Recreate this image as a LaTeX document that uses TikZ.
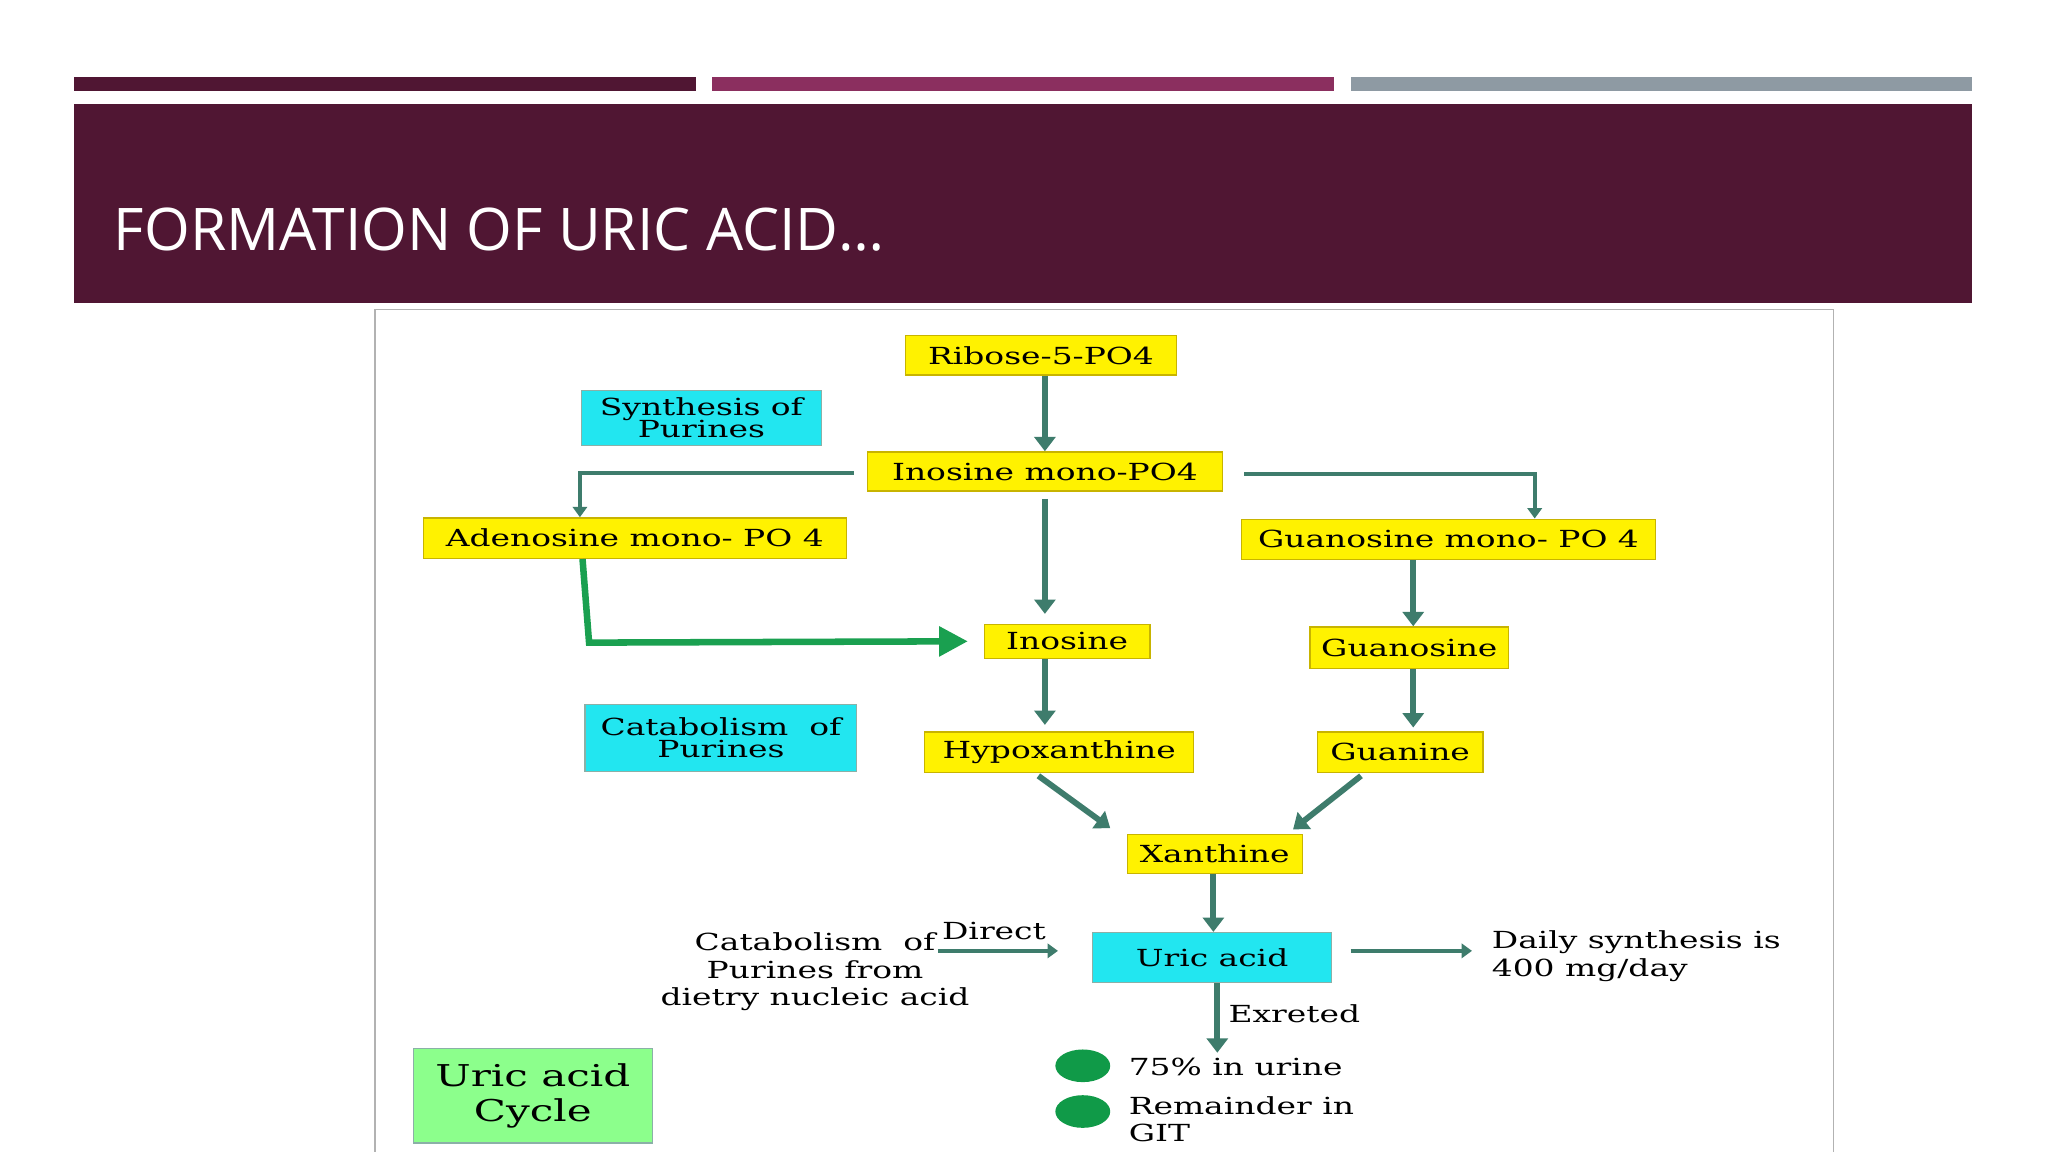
\documentclass[tikz,border=0pt]{standalone}
\usepackage{fontspec}
\setmainfont{DejaVu Serif}[FakeStretch=1.4]
\newfontfamily\titlefont{Open Sans}
\usetikzlibrary{arrows.meta,shapes.geometric}
\definecolor{plum}{HTML}{501633}
\definecolor{mag}{HTML}{8B2F5F}
\definecolor{grayb}{HTML}{8E9AA3}
\definecolor{ybox}{HTML}{FFF200}
\definecolor{ybord}{HTML}{C8B400}
\definecolor{cbox}{HTML}{22E6F0}
\definecolor{teal}{HTML}{3E7C6C}
\definecolor{gline}{HTML}{1AA050}
\definecolor{gdot}{HTML}{109A48}
\begin{document}
\begin{tikzpicture}[x=1pt,y=-1pt,
 yb/.style={draw=ybord,fill=ybox,line width=1pt,inner sep=0pt,font=\fontsize{18}{18}\selectfont},
 cb/.style={draw=teal!60,fill=cbox,line width=1pt,inner sep=0pt,align=center,font=\fontsize{18}{19}\selectfont},
 lbl/.style={inner sep=0pt,font=\fontsize{18}{21}\selectfont},
 ar/.style={draw=teal,line width=4.5pt,-{Triangle[length=11pt,width=16pt]}},
 thin/.style={draw=teal,line width=3pt,-{Triangle[length=8pt,width=11pt]}}]
\useasboundingbox (0,0) rectangle (1568,882);
\fill[white] (0,0) rectangle (1568,882);
\fill[plum] (57,59) rectangle (533,70);
\fill[mag] (545,59) rectangle (1021,70);
\fill[grayb] (1034,59) rectangle (1510,70);
\fill[plum] (57,80) rectangle (1510,232);
\node[anchor=west,text=white,inner sep=0pt,font=\titlefont\fontsize{45}{45}\selectfont] (title) at (87,176) {FORMATION OF URIC ACID…};
\draw[gray!60,line width=1pt] (287,882) -- (287,237) -- (1404,237) -- (1404,882);
\node[yb,minimum width=207,minimum height=30] (rib) at (797,272) {Ribose-5-PO4};
\node[cb,minimum width=184,minimum height=42] (syn) at (537,320) {Synthesis of\\[-2pt]Purines};
\node[yb,minimum width=272,minimum height=30] (imp) at (800,361) {Inosine mono-PO4};
\node[yb,minimum width=324,minimum height=31] (amp) at (486,412) {Adenosine mono- PO 4};
\node[yb,minimum width=317,minimum height=31] (gmp) at (1109,413) {Guanosine mono- PO 4};
\node[yb,minimum width=127,minimum height=26] (ino) at (817,491) {Inosine};
\node[yb,minimum width=152,minimum height=32] (guo) at (1079,496) {Guanosine};
\node[cb,minimum width=208,minimum height=51] (cat) at (552,565) {Catabolism\ \ of\\[-2pt]Purines};
\node[yb,minimum width=206,minimum height=31] (hyp) at (811,576) {Hypoxanthine};
\node[yb,minimum width=127,minimum height=31] (gua) at (1072,576) {Guanine};
\node[yb,minimum width=134,minimum height=30] (xan) at (930,654) {Xanthine};
\node[cb,minimum width=183,minimum height=38] (uric) at (928,733) {Uric acid};
\node[draw=teal!60,fill=green!45,line width=1pt,minimum width=183,minimum height=72,align=center,inner sep=0pt,font=\fontsize{23}{27}\selectfont] (cyc) at (408,839) {Uric acid\\Cycle};
\node[lbl,align=center] (diet) at (624,744) {Catabolism\ \ of\\Purines from\\dietry nucleic acid};
\node[lbl] (direct) at (761,713) {Direct};
\node[lbl,anchor=west,align=left] (daily) at (1142,732) {Daily synthesis is\\400 mg/day};
\node[lbl] (exr) at (991,776) {Exreted};
\node[fill=gdot,ellipse,minimum width=42,minimum height=25,inner sep=0pt] (d1) at (829,816) {};
\node[fill=gdot,ellipse,minimum width=42,minimum height=25,inner sep=0pt] (d2) at (829,851) {};
\node[lbl,anchor=west] (urine) at (864,817) {75\% in urine};
\node[lbl,anchor=west,align=left] (git) at (864,857) {Remainder in\\GIT};
\coordinate (dl) at (718,728); \coordinate (dr) at (810,728);
\coordinate (ur) at (1034,728); \coordinate (dd) at (1127,728);
\coordinate (uc) at (932,806);
\coordinate (i1) at (800,382); \coordinate (i2) at (800,470);
\draw[ar] (rib.south -| 800,0) -- (imp.north -| 800,0);
\draw[thin] (imp.west) ++(-10,1) -| (amp.north -| 444,0);
\draw[thin] (imp.east) ++(16,2) -| (gmp.north -| 1175,0);
\draw[ar] (i1) -- (i2);
\draw[draw=gline,line width=5pt,-{Triangle[length=22pt,width=22pt]}] (amp.south -| 446,0) -- (451,492) -- ([xshift=-12pt]ino.west);
\draw[ar] (gmp.south -| 1082,0) -- (guo.north -| 1082,0);
\draw[ar] (ino.south -| 800,0) -- ([yshift=5pt]hyp.north -| 800,0);
\draw[ar] (guo.south -| 1082,0) -- ([yshift=3pt]gua.north -| 1082,0);
\draw[ar] (795,594) -- (850,634);
\draw[ar] (1042,594) -- (990,635);
\draw[ar] (xan.south -| 929,0) -- (uric.north -| 929,0);
\draw[thin] (dl) -- (dr);
\draw[thin] (ur) -- (dd);
\draw[ar] (uric.south -| 932,0) -- (uc);
\end{tikzpicture}
\end{document}
